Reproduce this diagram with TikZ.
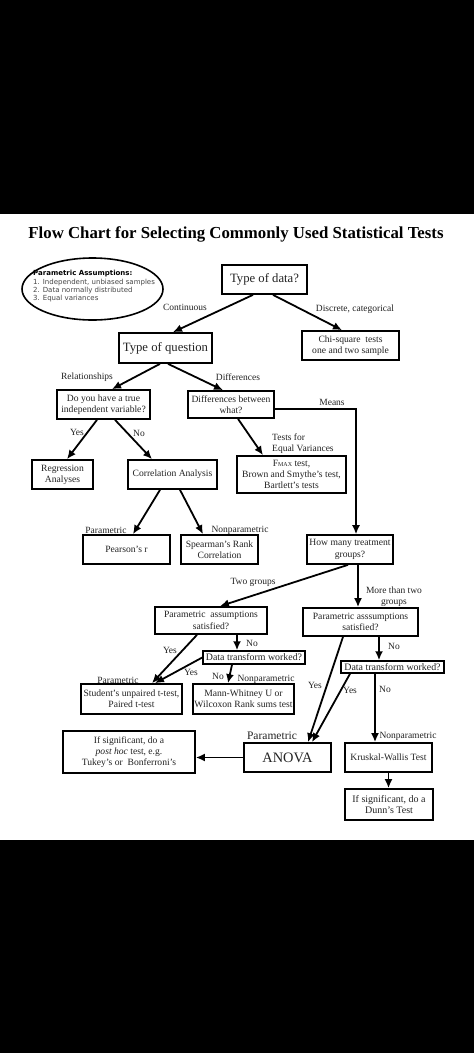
\documentclass[tikz,border=0pt]{standalone}
\usepackage{fontspec}
\setmainfont{Liberation Serif}
\newfontfamily\dejavu{DejaVu Sans}
\usetikzlibrary{arrows.meta,shapes.geometric,calc}
\definecolor{tcol}{RGB}{35,35,35}
\definecolor{ecol}{RGB}{70,70,70}
\begin{document}
\begin{tikzpicture}[x=1pt,y=-1pt,
  box/.style={draw=black, line width=1.7pt, align=center, inner sep=1pt, text=tcol, font=\fontsize{9.6}{11.3}\selectfont},
  lbl/.style={inner sep=0pt, text=tcol, font=\fontsize{9.5}{11}\selectfont, align=center},
  arr/.style={line width=1.8pt, -{Latex[length=9pt,width=8pt]}},
  plainline/.style={line width=1.3pt}
]
\useasboundingbox (0,0) rectangle (474,1053);
\fill[black] (0,0) rectangle (474,1053);
\fill[white] (0,214) rectangle (474,840);

% title
\node[inner sep=0pt, font=\fontsize{16.8}{18}\selectfont\bfseries, text=black] (title) at (236,234) {Flow Chart for Selecting Commonly Used Statistical Tests};

% assumptions ellipse
\node[draw=black, line width=1.6pt, ellipse, minimum width=141pt, minimum height=62pt, inner sep=0pt] (assump) at (92.5,289) {};
\node[anchor=west, inner sep=0pt, align=left, text=ecol, font=\dejavu\fontsize{7}{8.3}\selectfont] (assumptxt) at (33,286.5)
  {\textcolor{black}{\bfseries Parametric Assumptions:}\\1. Independent, unbiased samples\\2. Data normally distributed\\3. Equal variances};

% boxes
\node[box, minimum width=85pt, minimum height=29pt, font=\fontsize{12.7}{14}\selectfont] (typedata) at (264.5,279.5) {Type of data?};
\node[box, minimum width=97pt, minimum height=29pt] (chisq) at (350.5,345.5) {Chi-square\ \ tests\\one and two sample};
\node[box, minimum width=93pt, minimum height=30pt, font=\fontsize{12.7}{14}\selectfont] (typeq) at (165.5,348) {Type of question};
\node[box, minimum width=93pt, minimum height=29pt] (truevar) at (103.5,404.5) {Do you have a true\\independent variable?};
\node[box, minimum width=86pt, minimum height=27pt] (diffwhat) at (231,404.5) {Differences between\\what?};
\node[box, minimum width=109pt, minimum height=37pt] (fmax) at (291.5,474.5) {F{\fontsize{6}{7}\selectfont MAX} test,\\Brown and Smythe's test,\\Bartlett's tests};
\node[box, minimum width=61pt, minimum height=29pt] (regr) at (62.5,474.5) {Regression\\Analyses};
\node[box, minimum width=89pt, minimum height=29pt] (corr) at (172.5,474.5) {Correlation Analysis};
\node[box, minimum width=87pt, minimum height=29pt] (pearson) at (126.5,549.5) {Pearson's r};
\node[box, minimum width=77pt, minimum height=29pt] (spearman) at (219.5,549.5) {Spearman's Rank\\Correlation};
\node[box, minimum width=86pt, minimum height=29pt] (howmany) at (350,549.5) {How many treatment\\groups?};
\node[box, minimum width=112pt, minimum height=27pt] (paramL) at (211,620.5) {Parametric\ \ assumptions\\satisfied?};
\node[box, minimum width=115pt, minimum height=28pt] (paramR) at (360.5,622) {Parametric asssumptions\\satisfied?};
\node[box, minimum width=102pt, minimum height=13pt, inner sep=0pt, line width=1.5pt, font=\fontsize{9.9}{11}\selectfont] (dtL) at (254,657.5) {Data transform worked?};
\node[box, minimum width=103pt, minimum height=12pt, inner sep=0pt, line width=1.5pt, font=\fontsize{9.9}{11}\selectfont] (dtR) at (392.5,667) {Data transform worked?};
\node[box, minimum width=101pt, minimum height=30pt] (student) at (131.5,699) {Student's unpaired t-test,\\Paired t-test};
\node[box, minimum width=101pt, minimum height=30pt] (mann) at (243.5,699) {Mann-Whitney U or\\Wilcoxon Rank sums test};
\node[box, minimum width=132pt, minimum height=42pt] (posthoc) at (129,752) {If significant, do a\\\textit{post hoc} test, e.g.\\Tukey's or\ \ Bonferroni's};
\node[box, minimum width=87pt, minimum height=29pt, font=\fontsize{14.4}{16}\selectfont] (anova) at (287.5,757.5) {ANOVA};
\node[box, minimum width=87pt, minimum height=29pt] (kruskal) at (388.5,757.5) {Kruskal-Wallis Test};
\node[box, minimum width=88pt, minimum height=31pt, font=\fontsize{10}{11.3}\selectfont] (dunn) at (389,804.5) {If significant, do a\\Dunn's Test};

% connectors
\draw[arr] ([xshift=-11.5pt]typedata.south) -- ([xshift=7.5pt]typeq.north);
\draw[arr] ([xshift=8.5pt]typedata.south) -- ([xshift=-8.5pt]chisq.north);
\draw[arr] ([xshift=-5.5pt]typeq.south) -- ([xshift=8.5pt]truevar.north);
\draw[arr] ([xshift=2.5pt]typeq.south) -- ([xshift=-8pt]diffwhat.north);
\draw[line width=1.4pt, -{Latex[length=9pt,width=8pt]}] ([yshift=-4.5pt]diffwhat.east) -| ([xshift=6pt]howmany.north);
\draw[arr] ([xshift=7pt]diffwhat.south) -- ([xshift=-28.5pt]fmax.north);
\draw[arr] ([xshift=-6.5pt]truevar.south) -- ([xshift=4.5pt]regr.north);
\draw[arr] ([xshift=11.5pt]truevar.south) -- ([xshift=-20.5pt]corr.north);
\draw[arr] ([xshift=-12.5pt]corr.south) -- ([xshift=6.5pt]pearson.north);
\draw[arr] ([xshift=7.5pt]corr.south) -- ([xshift=-16.5pt]spearman.north);
\draw[arr] ([xshift=-2pt]howmany.south) -- ([xshift=9pt]paramL.north);
\draw[arr] ([xshift=8pt]howmany.south) -- ([xshift=-2.5pt]paramR.north);
\draw[arr] ([xshift=-14pt]paramL.south) -- ([xshift=20.5pt]student.north);
\draw[arr] ([xshift=26pt]paramL.south) -- ([xshift=-17pt]dtL.north);
\draw[arr] (dtL.west) -- ([xshift=23.5pt]student.north);
\draw[arr] ([xshift=-22pt]dtL.south) -- ([xshift=-15.5pt]mann.north);
\draw[arr] ([xshift=18.5pt]paramR.south) -- ([xshift=-13.5pt]dtR.north);
\draw[arr] ([xshift=-17.5pt]paramR.south) -- ([xshift=20.5pt]anova.north);
\draw[arr] ([xshift=-42.5pt]dtR.south) -- ([xshift=24.5pt]anova.north);
\draw[arr] ([xshift=-17.5pt]dtR.south) -- ([xshift=-13.5pt]kruskal.north);
\draw[arr] (kruskal.south) -- (kruskal.south |- dunn.north);
\draw[arr] (anova.west) -- (anova.west -| posthoc.east);

% labels
\node[lbl] (lcont) at (185,307) {Continuous};
\node[lbl] (ldisc) at (355,309) {Discrete, categorical};
\node[lbl] (lrel) at (87,377) {Relationships};
\node[lbl] (ldiff) at (238,377) {Differences};
\node[lbl] (lmeans) at (332,402) {Means};
\node[lbl, anchor=west, align=left] (ltests) at (272,443.5) {Tests for\\Equal Variances};
\node[lbl] (lyes1) at (77,432) {Yes};
\node[lbl] (lno1) at (139,433) {No};
\node[lbl] (lpar1) at (106,530) {Parametric};
\node[lbl] (lnon1) at (240,530) {Nonparametric};
\node[lbl] (ltwo) at (253,582) {Two groups};
\node[lbl] (lmore) at (394,596.5) {More than two\\groups};
\node[lbl] (lyes2) at (170,650) {Yes};
\node[lbl] (lno2) at (252,643) {No};
\node[lbl] (lyes3) at (191,672) {Yes};
\node[lbl] (lno3) at (218,676) {No};
\node[lbl] (lnon2) at (266,679) {Nonparametric};
\node[lbl] (lpar2) at (118,680) {Parametric};
\node[lbl] (lno4) at (394,646) {No};
\node[lbl] (lyes4) at (315,685) {Yes};
\node[lbl] (lyes5) at (350,690) {Yes};
\node[lbl] (lno5) at (385,689) {No};
\node[lbl, font=\fontsize{11.5}{13}\selectfont] (lpar3) at (272,736) {Parametric};
\node[lbl] (lnon3) at (408,736) {Nonparametric};
\end{tikzpicture}
\end{document}
